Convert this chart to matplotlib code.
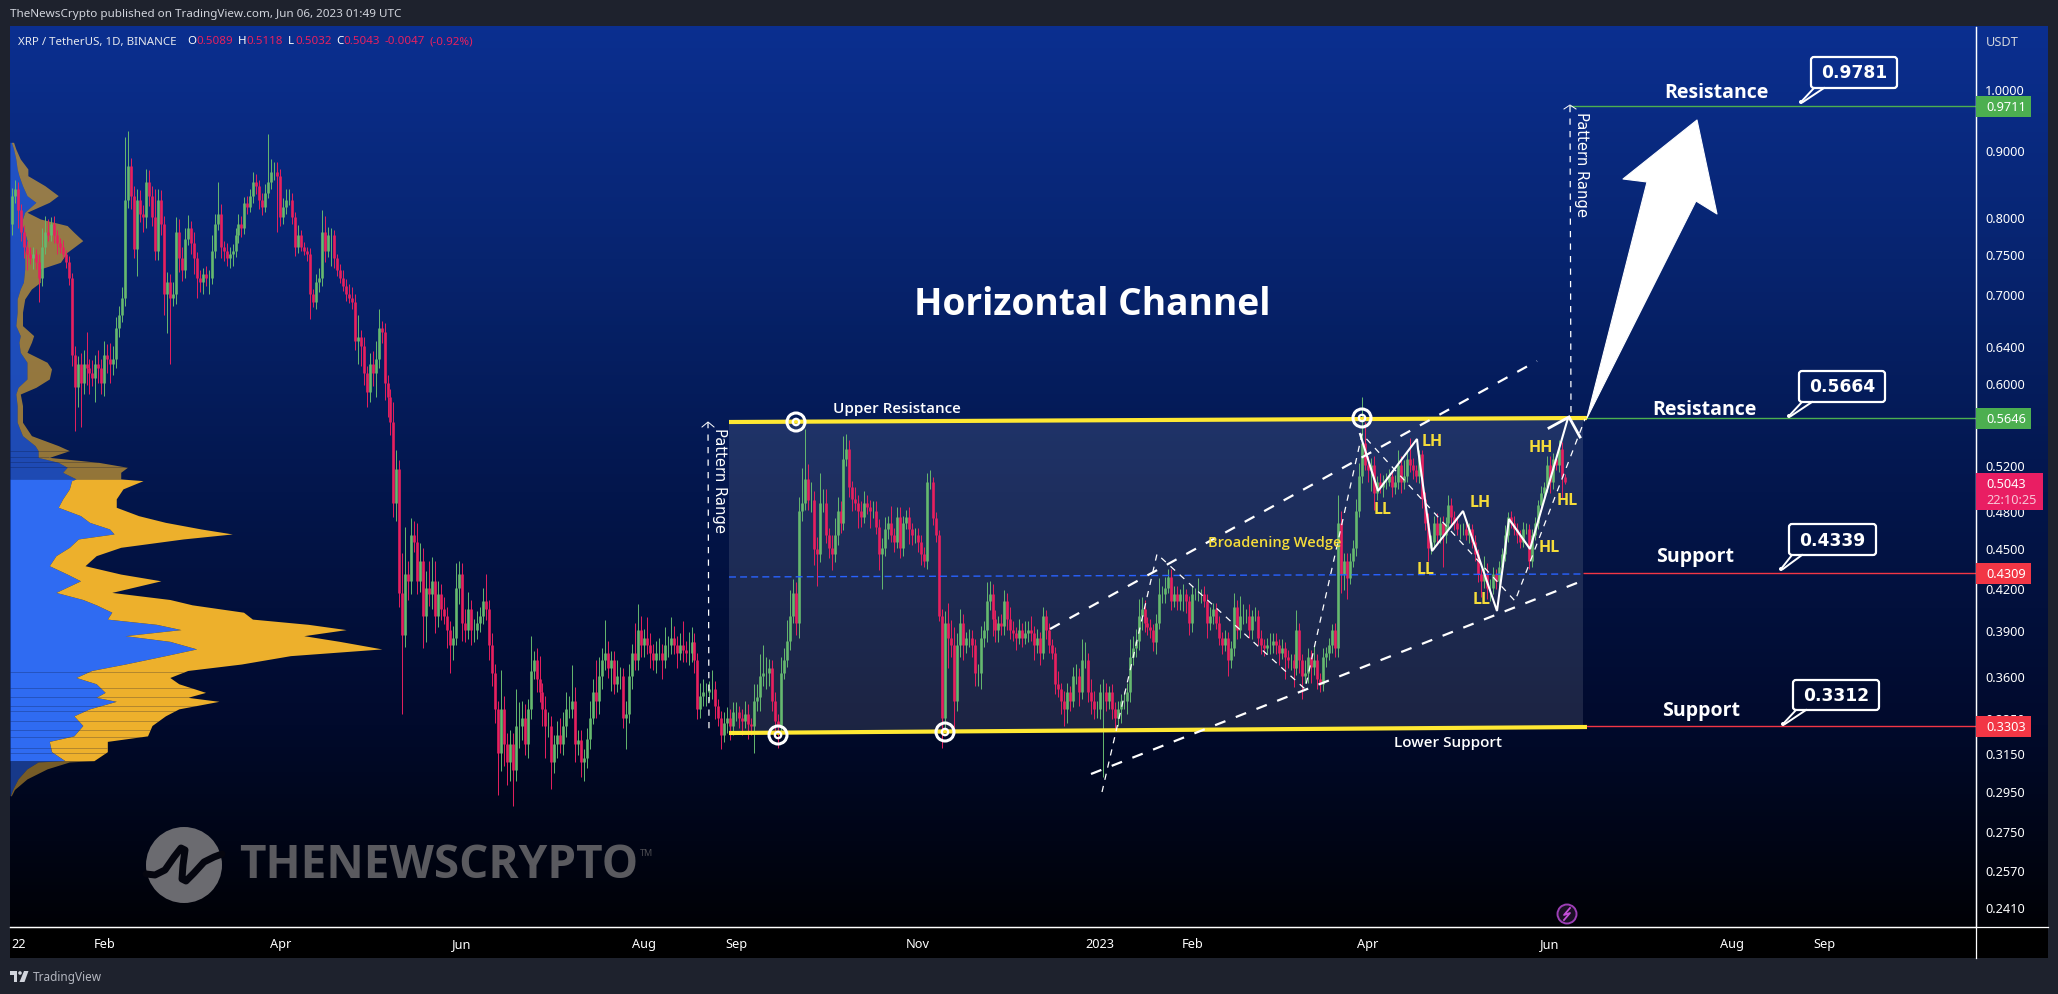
import numpy as np
import matplotlib

matplotlib.use("Agg")
import matplotlib.pyplot as plt
from matplotlib.colors import LinearSegmentedColormap
from matplotlib.patches import Circle, FancyBboxPatch, Polygon, Rectangle
from matplotlib.ticker import FixedLocator, NullLocator

W, H = 2058, 995

# daily closes, one row per month
closes = [
    .83,.84,.81,.78,.76,.75,.745,.75,.74,.72,.76,.78,.775,.79,.775,.765,.76,.75,.74,.72,.63,.595,.62,.60,.62,.615,.61,.605,.62,.615,.60,  # jan 22
    .63,.625,.62,.625,.66,.675,.695,.825,.875,.83,.757,.825,.805,.80,.85,.83,.80,.755,.825,.79,.70,.715,.695,.70,.78,.745,.73,.77,  # feb
    .785,.765,.745,.72,.715,.725,.72,.72,.755,.79,.805,.76,.755,.745,.75,.755,.775,.79,.785,.82,.815,.83,.85,.845,.825,.815,.835,.85,.865,.865,.86,  # mar
    .80,.815,.825,.825,.80,.76,.775,.76,.755,.75,.70,.69,.715,.72,.78,.755,.775,.775,.745,.73,.72,.71,.70,.695,.69,.645,.65,.64,.61,.59,  # apr
    .62,.61,.625,.66,.655,.60,.585,.56,.487,.516,.416,.387,.43,.425,.46,.455,.425,.44,.40,.42,.415,.425,.40,.415,.405,.40,.39,.38,.385,.42,.43,  # may
    .395,.39,.405,.39,.39,.395,.40,.41,.405,.38,.362,.34,.315,.34,.32,.31,.32,.306,.33,.33,.335,.32,.34,.363,.37,.358,.35,.34,.33,.33,  # jun
    .31,.32,.325,.32,.33,.34,.34,.345,.32,.322,.31,.312,.323,.335,.35,.345,.36,.37,.375,.365,.37,.355,.36,.36,.335,.337,.36,.375,.37,.39,.38,  # jul
    .385,.38,.375,.37,.375,.375,.37,.38,.38,.385,.38,.375,.38,.377,.375,.375,.382,.37,.34,.348,.35,.35,.352,.352,.342,.335,.325,.332,.335,.33,.338,  # aug
    .338,.335,.333,.337,.331,.33,.345,.347,.36,.362,.362,.365,.345,.333,.33,.362,.37,.383,.40,.416,.395,.48,.487,.507,.489,.489,.449,.445,.487,.487,  # sep
    .46,.45,.445,.46,.48,.47,.525,.535,.50,.49,.487,.48,.475,.487,.483,.48,.48,.467,.445,.45,.465,.47,.46,.455,.475,.45,.47,.475,.465,.46,.46,  # oct
    .455,.445,.44,.505,.505,.474,.46,.40,.335,.395,.385,.38,.345,.38,.395,.38,.385,.385,.38,.362,.362,.385,.39,.41,.415,.398,.39,.395,.393,.41,  # nov
    .398,.39,.388,.385,.39,.385,.388,.39,.388,.38,.385,.375,.40,.39,.38,.375,.355,.352,.345,.34,.35,.345,.36,.36,.35,.37,.37,.35,.345,.34,.34,  # dec
    .35,.35,.345,.35,.34,.335,.34,.345,.345,.35,.372,.378,.383,.40,.405,.395,.392,.39,.382,.395,.415,.415,.42,.428,.41,.415,.41,.415,.415,.41,.395,  # jan 23
    .415,.415,.415,.415,.41,.395,.40,.405,.395,.385,.38,.385,.37,.378,.406,.39,.40,.40,.40,.39,.40,.40,.385,.38,.378,.38,.38,.383,  # feb
    .38,.375,.378,.372,.37,.37,.365,.39,.37,.36,.362,.372,.366,.37,.358,.355,.372,.375,.38,.39,.378,.47,.43,.44,.427,.44,.45,.48,.51,.54,.52,  # mar
    .515,.52,.495,.505,.50,.505,.505,.51,.50,.505,.52,.505,.51,.525,.52,.515,.51,.53,.49,.47,.45,.455,.47,.46,.47,.46,.47,.485,.475,.47,  # apr
    .465,.465,.465,.46,.465,.455,.445,.43,.425,.43,.42,.42,.43,.425,.435,.445,.46,.475,.47,.465,.46,.455,.465,.465,.44,.46,.47,.485,.495,.50,.52,  # may
    .505,.525,.52,.535,.5089,.5043,  # jun
]

# wick above / below the body, in 0.001 USDT
wick_up = [
    12,14,10,8,9,7,10,9,7,10,25,22,18,10,12,8,7,9,6,8,6,10,8,12,15,35,10,14,9,15,10,
    15,12,18,14,12,10,14,95,55,12,15,15,14,12,20,18,15,40,15,14,12,12,10,15,20,18,15,15,
    18,10,15,8,10,8,10,10,20,15,45,14,8,10,10,8,10,14,12,8,10,10,15,12,8,10,12,75,20,15,15,
    10,12,15,15,10,8,14,8,6,5,8,6,10,12,30,22,12,10,8,6,8,10,8,12,14,10,25,8,10,8,
    12,14,20,22,8,10,8,8,20,18,8,30,37,10,14,12,15,14,10,12,20,18,15,10,8,8,6,6,8,18,10,
    8,10,12,6,8,8,6,10,20,6,8,6,5,24,8,6,8,6,22,14,10,8,6,23,6,8,15,6,8,8,
    6,5,8,10,8,10,8,22,8,6,6,5,6,10,8,20,12,8,22,8,6,6,10,6,5,8,8,6,20,18,10,
    6,14,8,6,8,10,6,12,6,14,8,6,8,16,6,14,10,6,5,8,8,6,5,12,5,4,4,6,6,5,6,
    6,4,5,8,6,4,10,8,14,18,10,6,5,5,4,10,8,14,18,10,8,12,30,46,14,16,8,10,26,12,
    12,6,10,14,12,8,22,14,8,6,10,6,8,10,6,6,8,8,6,8,10,6,14,6,8,8,6,6,8,5,6,
    6,5,6,8,10,4,5,4,5,8,14,12,12,8,10,6,4,6,5,4,6,8,6,14,10,8,6,5,6,8,
    6,8,6,4,8,5,8,6,10,5,6,4,6,4,5,4,4,8,4,6,6,4,6,8,5,14,12,5,8,6,5,
    5,8,6,4,5,4,5,4,6,6,12,8,8,12,8,6,4,6,4,6,12,6,8,6,6,6,6,4,8,4,4,
    6,5,12,4,6,5,6,4,4,5,4,5,4,5,10,5,14,8,5,8,4,6,4,5,4,5,8,5,
    5,4,6,4,5,4,4,14,5,4,8,6,5,10,4,4,6,4,5,4,5,23,10,6,6,6,6,10,12,45,20,
    8,6,8,5,8,6,8,6,5,6,14,8,14,8,20,6,5,4,4,6,8,5,6,8,5,6,5,8,6,5,
    6,4,5,8,5,4,5,4,4,14,8,6,5,4,5,5,8,4,5,6,5,4,6,5,4,5,5,4,6,5,8,
    8,6,5,8,6,3,
]
wick_down = [
    15,10,25,12,15,20,8,14,9,30,10,9,8,7,10,14,8,5,7,9,12,43,20,45,12,18,22,9,25,15,12,
    14,15,20,12,10,10,8,10,12,18,12,35,12,20,15,14,12,12,12,14,25,46,75,10,12,18,14,10,
    8,14,20,25,12,15,10,20,8,10,8,15,14,10,12,15,8,10,12,8,10,8,10,12,14,12,8,8,10,12,80,
    12,10,10,8,10,12,8,6,6,8,30,6,8,12,10,15,8,40,12,8,6,6,8,6,8,10,25,22,12,15,
    10,14,25,10,12,18,20,12,12,15,10,50,8,14,10,8,10,8,22,18,8,10,12,8,8,6,12,18,10,5,12,
    12,8,6,10,8,6,6,6,8,10,8,8,22,10,12,12,10,19,6,12,8,6,8,6,5,8,6,10,18,6,
    14,6,8,5,6,6,5,5,10,6,8,10,5,6,4,10,8,8,6,6,14,6,5,8,6,18,5,8,6,6,8,
    8,6,10,6,8,5,12,5,8,6,6,10,5,8,6,8,6,8,6,5,6,8,5,6,8,5,8,4,6,8,5,
    5,6,8,4,8,5,15,6,8,6,10,8,6,6,12,4,4,4,6,5,8,10,8,6,8,10,12,24,6,8,
    6,8,12,6,8,8,6,6,8,10,6,14,8,5,6,14,6,6,12,26,6,8,5,8,5,8,6,5,12,8,6,
    8,8,5,6,6,6,5,4,17,8,20,8,20,6,8,10,5,6,8,8,8,10,6,8,6,12,8,8,6,6,
    8,6,5,8,4,6,4,6,5,10,5,8,4,6,5,4,6,5,8,10,8,6,4,5,8,4,5,6,8,6,5,
    6,48,6,5,6,8,5,8,5,8,6,5,6,6,10,6,5,5,6,8,4,6,6,4,6,4,6,6,12,8,8,
    6,4,5,6,4,10,5,6,4,5,6,4,10,5,5,6,5,6,5,5,6,4,5,6,5,4,6,5,
    6,8,4,14,5,6,12,4,8,14,4,6,10,5,6,5,4,6,5,5,6,6,14,12,15,4,5,6,5,6,5,
    10,18,14,6,5,8,6,4,8,6,6,10,6,5,6,8,5,6,8,6,10,5,6,8,6,25,6,5,8,6,
    5,8,5,4,6,5,5,6,12,5,8,10,5,6,5,4,5,5,4,5,6,5,4,4,6,5,4,5,5,6,4,
    10,6,5,6,18,1,
]
first_open = 0.79

# volume profile rows
vp_price = [
    .9114,.9009,.8854,.8701,.8600,.8452,.8307,.8211,.8070,.7976,.7885,.7794,.7681,.7527,.7397,.7312,.7145,.7062,
    .6940,.6781,.6625,.6511,.6436,.6325,.6216,.6144,.6038,.5951,.5882,.5765,.5600,.5471,.5377,.5330,.5268,.5223,
    .5178,.5133,.5074,.5059,.4987,.4901,.4830,.4760,.4705,.4651,.4611,.4571,.4505,.4440,.4363,.4300,.4250,.4165,
    .4114,.4076,.4024,.3976,.3940,.3904,.3863,.3825,.3775,.3731,.3677,.3636,.3592,.3553,.3500,.3470,.3446,.3401,
    .3360,.3304,.3245,.3214,.3157,.3108,.3101,.3064,.3011,.2956,.2924,
]
vp_up = [
    25,30,35,38,42,50,60,80,55,50,50,55,60,55,55,55,52,45,
    38,38,35,45,42,45,60,60,60,40,35,38,38,50,78,85,85,130,
    150,140,170,160,155,140,130,180,200,245,255,175,155,125,110,150,180,125,
    185,215,250,240,350,405,280,380,440,370,280,205,170,215,235,215,260,200,
    165,185,165,110,115,145,85,60,40,28,23,
]
vp_total = [
    30,35,45,62,62,100,130,110,60,90,150,165,185,150,135,90,90,70,
    55,50,50,75,70,60,105,115,110,80,45,50,50,70,130,155,110,220,
    285,270,270,320,275,260,260,310,370,450,520,410,270,215,190,270,360,250,
    380,430,545,565,690,775,680,760,855,650,540,420,380,400,460,420,490,400,
    370,340,330,240,240,210,155,105,60,32,25,
]
vp_stripe_price = [.5330, .5268, .5223, .5178, .3625, .3525, .3470, .3420, .3390, .3330, .3280, .3240, .3180, .3150]

price_ticks = [1.0, .9, .8, .75, .7, .64, .6, .52, .48, .45, .42, .39, .36, .335, .315, .295, .275, .257, .241]
month_days = [31, 90, 151, 212, 243, 304, 365, 396, 455, 516, 577, 608]
month_labels = ["Feb", "Apr", "Jun", "Aug", "Sep", "Nov", "2023", "Feb", "Apr", "Jun", "Aug", "Sep"]

resistance_levels = [0.9711, 0.5646]
support_levels = [0.4309, 0.3303]

GREEN = "#66b96f"
RED = "#e8205f"
YELLOW = "#ffe833"
MARK = "#f5dc3a"
SANS = "Open Sans"
UI = "Noto Sans"


def px_axes(fig, zorder):
    a = fig.add_axes([0, 0, 1, 1], zorder=zorder)
    a.set_xlim(0, W)
    a.set_ylim(H, 0)
    a.axis("off")
    a.patch.set_alpha(0)
    return a


def target(a, x, y):
    a.add_patch(Circle((x, y), 9, fc="none", ec="white", lw=2.2, zorder=8))
    a.add_patch(Circle((x, y), 3.2, fc="none", ec="white", lw=1.6, zorder=8))


def callout(a, x0, x1, y0, y1, tip, s):
    a.add_patch(FancyBboxPatch((x0, y0), x1 - x0, y1 - y0, boxstyle="round,pad=0,rounding_size=3",
                               fc="none", ec="white", lw=1.6, zorder=8))
    a.plot([x0 + 3, tip[0]], [y1, tip[1]], color="white", lw=1.4, zorder=8)
    a.plot([x0 + 13, tip[0] + 2], [y1, tip[1]], color="white", lw=1.4, zorder=8)
    a.add_patch(Circle(tip, 2, fc="white", ec="none", zorder=9))
    a.text((x0 + x1) / 2, (y0 + y1) / 2, s, color="white", family="DejaVu Sans", weight="bold",
           fontsize=12.3, ha="center", va="center", zorder=9)


def tag(a, y0, y1, x1, color, s):
    a.add_patch(Rectangle((1976, y0), x1 - 1976, y1 - y0, fc=color, ec="none", zorder=6))
    a.text(1986, (y0 + y1) / 2, s, color="white", family=UI, fontsize=9.2, ha="left", va="center", zorder=7)


fig = plt.figure(figsize=(W / 100, H / 100), dpi=100, facecolor="#1e222d")

# --- background layer ---
under = px_axes(fig, 0)
grad = LinearSegmentedColormap.from_list("bg", ["#0b2f90", "#07246f", "#03164c", "#010a2c", "#000000"])
under.imshow(np.linspace(0, 1, 256).reshape(-1, 1), cmap=grad, aspect="auto", extent=(10, 2048, 959, 27), zorder=0)
under.set_xlim(0, W)
under.set_ylim(H, 0)
under.add_patch(Rectangle((10, 929), 2038, 30, fc="black", ec="none", zorder=1))
under.add_patch(Polygon([(729, 423), (1583, 419), (1583, 728), (729, 734)], fc="white", alpha=0.11, ec="none", zorder=1))
# watermark
under.add_patch(Circle((184, 866), 38, fc="#6b6b70", ec="none", zorder=2))
under.plot([146, 155, 165, 174, 181, 185, 183, 182, 186, 194, 204, 214, 222],
           [875, 876, 871, 858, 849, 851, 866, 880, 882, 874, 863, 858, 855],
           color="#05060f", lw=5, solid_capstyle="round", zorder=3)
under.text(239, 866, "THENEWSCRYPTO", color="#5a5a5f", family=SANS, weight="bold", fontsize=33,
           ha="left", va="center", zorder=2)
under.text(640, 853, "TM", color="#4d4d52", family=UI, fontsize=6.5, ha="left", va="center", zorder=2)

# --- price chart ---
ax = fig.add_axes([10 / W, 1 - 928 / H, 1966 / W, 900 / H], zorder=1)
ax.patch.set_alpha(0)
ax.set_yscale("log")
ax.set_ylim(0.2327, 1.1139)
ax.set_xlim(-0.67, 659)

price = np.array(vp_price)
left = -0.67
vp_scale = 0.1498
up_x = left + (np.array(vp_up) - 22) * vp_scale
tot_x = left + (np.array(vp_total) - 22) * vp_scale
bright = (price <= 0.5074) & (price >= 0.3108)
for mask, alpha in [(price >= 0.5074, 0.62), (bright, 1.0), (price <= 0.3108, 0.5)]:
    ax.fill_betweenx(price, left, up_x, where=mask, color="#2f6bf2", alpha=alpha, lw=0, zorder=1)
    ax.fill_betweenx(price, up_x, tot_x, where=mask, color="#edb02c", alpha=alpha, lw=0, zorder=1)
order = np.argsort(price)
ax.hlines(vp_stripe_price, left, np.interp(vp_stripe_price, price[order], tot_x[order]),
          color="#0a1030", lw=0.4, alpha=0.45, zorder=2)

close = np.array(closes)
opens = np.r_[first_open, close[:-1]]
top = np.maximum(opens, close)
bot = np.minimum(opens, close)
highs = top + np.array(wick_up) / 1000
lows = bot - np.array(wick_down) / 1000
days = np.arange(len(close))
colors = [GREEN if c >= o else RED for o, c in zip(opens, close)]
ax.vlines(days, lows, highs, colors=colors, lw=0.7, zorder=3)
ax.vlines(days, bot, top, colors=colors, lw=1.9, zorder=4)

ax.hlines(resistance_levels[0], 522.8, 659, color="#4caf50", lw=1, zorder=5)
ax.hlines(resistance_levels[1], 527, 659, color="#4caf50", lw=1, zorder=5)
ax.hlines(support_levels, 527, 659, color="#f23645", lw=1, zorder=5)

ax.yaxis.tick_right()
ax.yaxis.set_major_locator(FixedLocator(price_ticks))
ax.yaxis.set_major_formatter(lambda v, pos: f"{v:.4f}")
ax.yaxis.set_minor_locator(NullLocator())
ax.set_xticks(month_days, month_labels)
ax.tick_params(axis="both", length=0, colors="white", labelsize=9.2)
ax.tick_params(axis="y", pad=6.4)
ax.tick_params(axis="x", pad=7)
for lab in ax.get_xticklabels() + ax.get_yticklabels():
    lab.set_family(UI)
ax.get_xticklabels()[6].set_weight("bold")
for side in ("top", "left"):
    ax.spines[side].set_visible(False)
ax.spines["right"].set_color("white")
ax.spines["bottom"].set_color("white")
ax.spines["right"].set_linewidth(0.9)
ax.spines["bottom"].set_linewidth(0.9)

# --- drawings on top ---
over = px_axes(fig, 2)
over.plot([729, 1583], [578, 575], color="#2962ff", lw=1, ls=(0, (5, 3)), zorder=4)
over.plot([729, 1587], [423, 419], color=YELLOW, lw=3, solid_capstyle="butt", zorder=5)
over.plot([729, 1587], [734, 728], color=YELLOW, lw=3, solid_capstyle="butt", zorder=5)

# channel + wedge
over.plot([1050, 1537], [630, 362], color="white", lw=1.6, ls=(0, (5, 5)), zorder=6)
over.plot([1091, 1587], [775, 580], color="white", lw=1.6, ls=(0, (5, 5)), zorder=6)
over.plot([1102, 1157, 1305, 1362, 1515, 1585], [793, 555, 690, 435, 602, 420], color="white", lw=0.9, ls=(0, (5, 5)), zorder=6)

# price path
over.plot([1360, 1378, 1417, 1418, 1432, 1463, 1497, 1509, 1530, 1568],
          [435, 492, 440, 450, 552, 512, 612, 520, 550, 419],
          color="white", lw=1.5, solid_joinstyle="miter", zorder=7)
over.plot([1549, 1569, 1580], [429, 418, 438], color="white", lw=2, solid_joinstyle="miter", zorder=7)

# pattern range
over.plot([708, 709], [423, 735], color="white", lw=0.9, ls=(0, (5, 5)), zorder=6)
over.plot([702, 708, 714], [428, 423, 428], color="white", lw=0.7, zorder=6)
over.plot([1570, 1571], [107, 418], color="white", lw=0.9, ls=(0, (5, 5)), zorder=6)
over.plot([1564, 1570, 1576], [110, 106, 110], color="white", lw=0.7, zorder=6)
over.text(720, 480, "Pattern Range", color="white", family="DejaVu Sans", fontsize=10.6, rotation=-90,
          ha="center", va="center", zorder=8)
over.text(1582, 165, "Pattern Range", color="white", family="DejaVu Sans", fontsize=10.6, rotation=-90,
          ha="center", va="center", zorder=8)

# breakout arrow
over.add_patch(Polygon([(1587, 419), (1647, 183), (1623, 180), (1697, 121), (1717, 215), (1696, 202)],
                       fc="white", ec="white", lw=0.8, joinstyle="round", zorder=7))

for x, y in [(796, 423), (778, 736), (945, 733), (1362, 419)]:
    target(over, x, y)

over.text(1092, 305, "Horizontal Channel", color="white", family=SANS, weight="bold", fontsize=26.7,
          ha="center", va="center", zorder=8)
over.text(897, 409, "Upper Resistance", color="white", family=SANS, weight="semibold", fontsize=11,
          ha="center", va="center", zorder=8)
over.text(1448, 743, "Lower Support", color="white", family=SANS, weight="semibold", fontsize=11,
          ha="center", va="center", zorder=8)
over.text(1275, 543, "Broadening Wedge", color=MARK, family=SANS, weight="semibold", fontsize=10.5,
          ha="center", va="center", zorder=8)
for s, x, y in [("LH", 1432, 442), ("LL", 1383, 510), ("LH", 1480, 503), ("LL", 1426, 570), ("LL", 1482, 600),
                ("HH", 1541, 448), ("HL", 1567, 501), ("HL", 1549, 548)]:
    over.text(x, y, s, color=MARK, family=SANS, weight="bold", fontsize=11.5, ha="center", va="center", zorder=8)

for s, x, y in [("Resistance", 1716, 93), ("Resistance", 1704, 410), ("Support", 1695, 557), ("Support", 1701, 711)]:
    over.text(x, y, s, color="white", family=SANS, weight="bold", fontsize=14, ha="center", va="center", zorder=8)

callout(over, 1811, 1897, 58, 89, (1801, 103), "0.9781")
callout(over, 1799, 1885, 372, 403, (1789, 417), "0.5664")
callout(over, 1789, 1876, 525, 556, (1781, 570), "0.4339")
callout(over, 1793, 1879, 681, 711, (1783, 725), "0.3312")

# lightning badge
over.add_patch(Circle((1567, 915), 9.5, fc="#1a1024", ec="#9c3fb5", lw=1.4, zorder=8))
over.plot([1570, 1564, 1570, 1564], [909, 916, 914, 921], color="#c44fd8", lw=1.3, zorder=9)

# price scale extras
over.plot([10, 2048], [928, 928], color="white", lw=0.9, zorder=5)
over.plot([1976, 1976], [28, 959], color="white", lw=0.9, zorder=5)
over.text(1986, 42, "USDT", color="#d1d4dc", family=UI, fontsize=9.2, ha="left", va="center", zorder=7)
tag(over, 97, 118, 2031, "#4caf50", "0.9711")
tag(over, 409, 430, 2031, "#4caf50", "0.5646")
tag(over, 564, 585, 2031, "#f23645", "0.4309")
tag(over, 717, 738, 2031, "#f23645", "0.3303")
over.add_patch(Rectangle((1976, 474), 67, 37, fc="#e91e63", ec="none", zorder=6))
over.text(1986, 485, "0.5043", color="white", family=UI, fontsize=9.2, ha="left", va="center", zorder=7)
over.text(1986, 501, "22:10:25", color="#f7c5d6", family=UI, fontsize=9.2, ha="left", va="center", zorder=7)
over.text(11, 944, "22", color="white", family=UI, weight="bold", fontsize=9.2, ha="left", va="center", zorder=7)

# header
over.text(10, 15, "TheNewsCrypto published on TradingView.com, Jun 06, 2023 01:49 UTC", color="#d1d4dc",
          family=UI, fontsize=8.4, ha="left", va="center")
over.text(18, 42, "XRP / TetherUS, 1D, BINANCE", color="#e6e8ee", family=UI, fontsize=8.3, ha="left", va="center")
for s, x, c in [("O", 187, "white"), ("0.5089", 196, RED), ("H", 238, "white"), ("0.5118", 246, RED),
                ("L", 288, "white"), ("0.5032", 295, RED), ("C", 336, "white"), ("0.5043", 343, RED),
                ("-0.0047", 385, RED), ("(-0.92%)", 430, RED)]:
    over.text(x, 42, s, color=c, family=UI, fontsize=8.3, ha="left", va="center")

# footer
over.add_patch(Polygon([(10, 972), (17, 972), (17, 983), (13.5, 983), (13.5, 975.5), (10, 975.5)], fc="#d1d4dc", ec="none"))
over.add_patch(Circle((20, 974), 1.8, fc="#d1d4dc", ec="none"))
over.add_patch(Polygon([(24, 972), (28.5, 972), (24.5, 983), (19.5, 983)], fc="#d1d4dc", ec="none"))
over.text(33, 977, "TradingView", color="#b2b5be", family=UI, fontsize=8.5, ha="left", va="center")

fig.savefig("out.png", dpi=100, facecolor=fig.get_facecolor())
